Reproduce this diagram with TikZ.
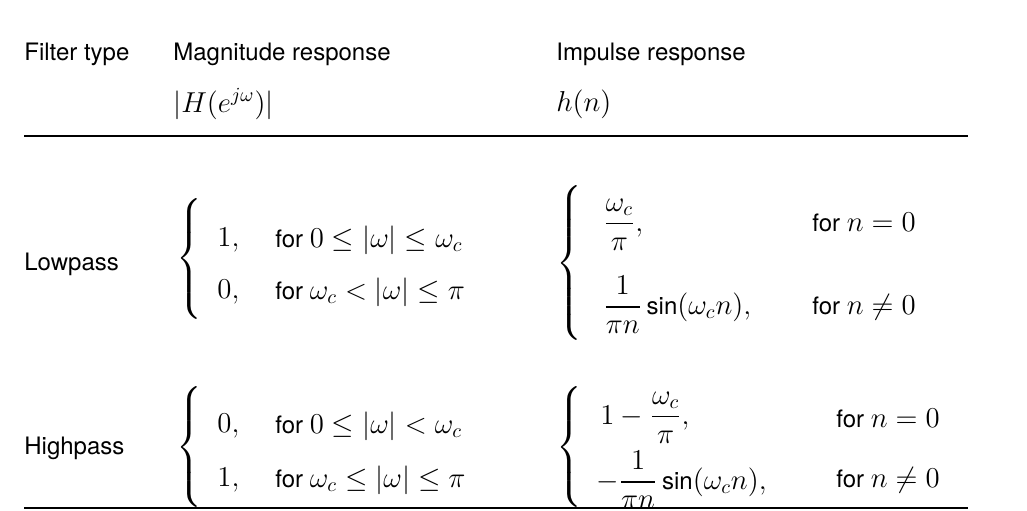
\documentclass[tikz,border=0pt]{standalone}
\usepackage{amsmath}
\usepackage{fontspec}
\setsansfont{TeX Gyre Heros}
\renewcommand{\familydefault}{\sfdefault}
\begin{document}
\begin{tikzpicture}[x=0.5pt,y=-0.5pt,
  every node/.style={inner sep=0pt,anchor=west,font=\fontsize{12}{14}\selectfont},
  mth/.style={font=\fontsize{14}{16}\selectfont},
  rule/.style={line width=0.6pt}]
\useasboundingbox (0,0) rectangle (1027,510);
\newcommand{\bigbr}[1]{$\left\{\vphantom{\rule[-#1]{0pt}{#1}}\right.$}
% header
\node (ft) at (24,54) {Filter type};
\node (mr) at (173,54) {Magnitude response};
\node (ir) at (556,54) {Impulse response};
\node[mth] (hm) at (173,104) {$|H(e^{j\omega})|$};
\node[mth] (hn) at (556,104) {$h(n)$};
\coordinate (t1) at (24,136); \coordinate (t2) at (968,136);
\draw[rule] (t1) -- (t2);
\coordinate (b1) at (24,508); \coordinate (b2) at (968,508);
\draw[rule] (b1) -- (b2);
% lowpass
\node (lp) at (24,264) {Lowpass};
\node[mth] (lb) at (176,259) {\bigbr{27pt}};
\node[mth] (l1a) at (217,240) {$1,$};
\node[mth] (l1b) at (275,240) {\fontsize{12}{14}\selectfont for \fontsize{14}{16}\selectfont$0\le|\omega|\le\omega_c$};
\node[mth] (l2a) at (217,292) {$0,$};
\node[mth] (l2b) at (275,292) {\fontsize{12}{14}\selectfont for \fontsize{14}{16}\selectfont$\omega_c<|\omega|\le\pi$};
\node[mth] (lib) at (556,263) {\bigbr{34pt}};
\node[mth] (li1) at (603,225) {$\dfrac{\omega_c}{\pi},$};
\node[mth] (li1f) at (812,222) {\fontsize{12}{14}\selectfont for \fontsize{14}{16}\selectfont$n=0$};
\node[mth] (li2) at (603,305) {$\dfrac{1}{\pi n}$\,{\fontsize{12}{14}\selectfont sin}$(\omega_c n),$};
\node[mth] (li2f) at (812,307) {\fontsize{12}{14}\selectfont for \fontsize{14}{16}\selectfont$n\ne0$};
% highpass
\node (hp) at (24,448) {Highpass};
\node[mth] (hb) at (176,447) {\bigbr{25pt}};
\node[mth] (h1a) at (217,426) {$0,$};
\node[mth] (h1b) at (275,426) {\fontsize{12}{14}\selectfont for \fontsize{14}{16}\selectfont$0\le|\omega|<\omega_c$};
\node[mth] (h2a) at (217,480) {$1,$};
\node[mth] (h2b) at (275,480) {\fontsize{12}{14}\selectfont for \fontsize{14}{16}\selectfont$\omega_c\le|\omega|\le\pi$};
\node[mth] (hib) at (556,447) {\bigbr{26pt}};
\node[mth] (hi1) at (600,418) {$1-\dfrac{\omega_c}{\pi},$};
\node[mth] (hi1f) at (836,418) {\fontsize{12}{14}\selectfont for \fontsize{14}{16}\selectfont$n=0$};
\node[mth] (hi2) at (596,480) {$-\dfrac{1}{\pi n}$\,{\fontsize{12}{14}\selectfont sin}$(\omega_c n),$};
\node[mth] (hi2f) at (836,480) {\fontsize{12}{14}\selectfont for \fontsize{14}{16}\selectfont$n\ne0$};
\end{tikzpicture}
\end{document}
